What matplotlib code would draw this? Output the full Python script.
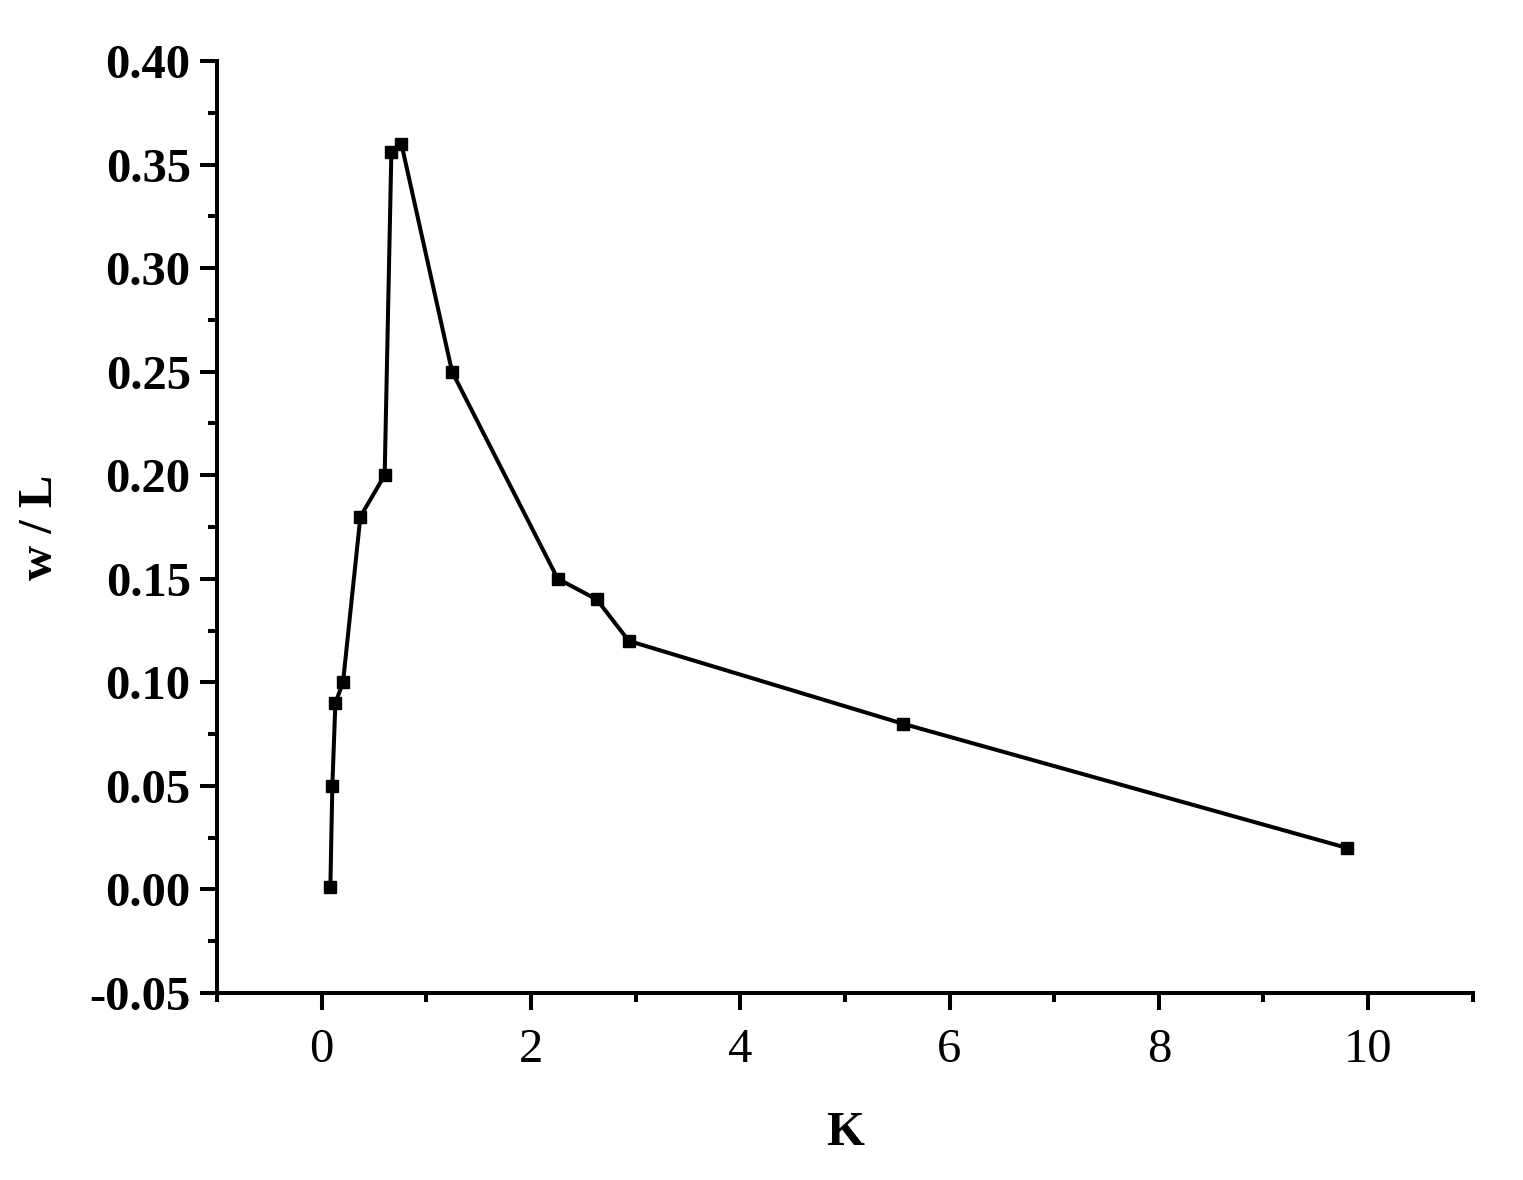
import matplotlib
matplotlib.use("Agg")
import matplotlib.pyplot as plt
from matplotlib.ticker import MultipleLocator, FormatStrFormatter

K = [0.083, 0.102, 0.131, 0.204, 0.37, 0.602, 0.666, 0.762, 1.246, 2.256, 2.629, 2.935, 5.554, 9.80]
wL = [0.001, 0.050, 0.090, 0.100, 0.180, 0.200, 0.356, 0.360, 0.250, 0.150, 0.140, 0.120, 0.080, 0.020]

plt.rcParams['font.family'] = ['Liberation Serif', 'DejaVu Serif']

fig = plt.figure(figsize=(15.23, 11.80), dpi=100)
ax = fig.add_axes([0.1425, 0.1585, 0.8245, 0.7898])

ax.plot(K, wL, color='black', linewidth=2.9, marker='s', markersize=8.5,
        markerfacecolor='black', markeredgecolor='black')

ax.set_xlim(-1, 11)
ax.set_ylim(-0.05, 0.40)
ax.xaxis.set_major_locator(MultipleLocator(2))
ax.xaxis.set_minor_locator(MultipleLocator(1))
ax.yaxis.set_major_locator(MultipleLocator(0.05))
ax.yaxis.set_minor_locator(MultipleLocator(0.025))
ax.yaxis.set_major_formatter(FormatStrFormatter('%.2f'))

for s in ['top', 'right']:
    ax.spines[s].set_visible(False)
for s in ['left', 'bottom']:
    ax.spines[s].set_linewidth(2.9)

ax.tick_params(axis='both', which='major', direction='out', length=12, width=2.9)
ax.tick_params(axis='both', which='minor', direction='out', length=6.5, width=2.9)
ax.tick_params(axis='x', which='major', labelsize=35, pad=13)
ax.tick_params(axis='y', which='major', labelsize=35, pad=7)
for lab in ax.get_yticklabels():
    lab.set_fontweight('bold')

ax.set_xlabel('K', fontsize=35, fontweight='bold', labelpad=28)
ax.set_ylabel('w / L', fontsize=35, fontweight='bold', labelpad=20)

fig.savefig('out.png', dpi=100)
